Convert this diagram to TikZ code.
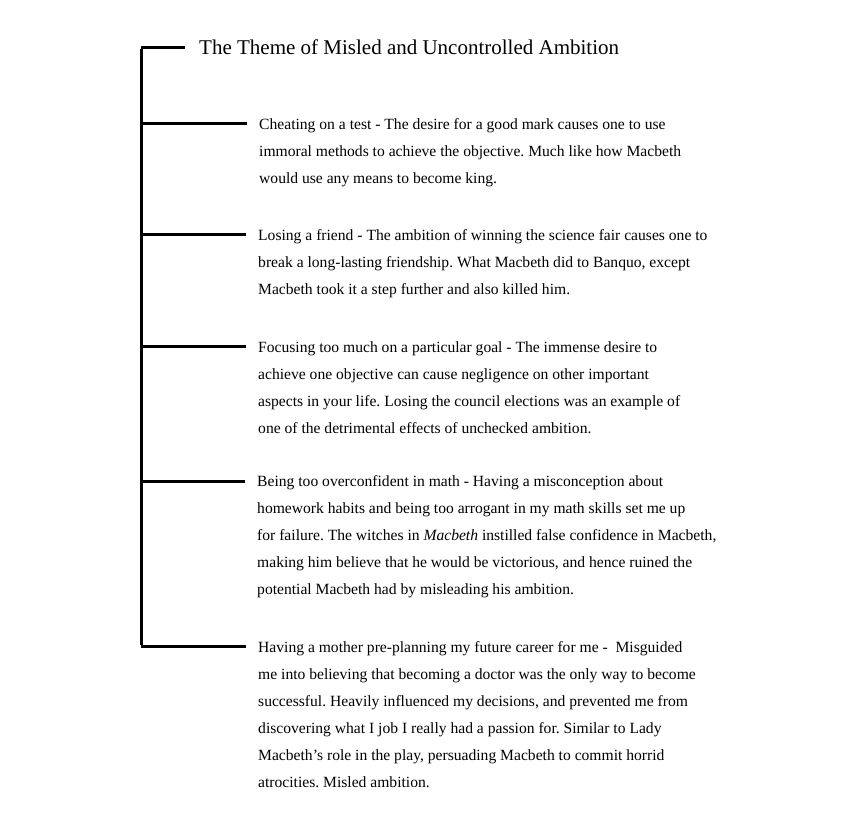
\documentclass[tikz,border=0pt]{standalone}
\usepackage{fontspec}
\setmainfont{Liberation Serif}
\usetikzlibrary{positioning, calc}
\frenchspacing

\begin{document}
\begin{tikzpicture}[x=1pt, y=-1pt,
        trunk/.style={line width=3pt},
        branch/.style={line width=3pt},
        item/.style={anchor=north west, align=left, inner sep=0pt, font=\fontsize{15.6}{27}\selectfont},
        title/.style={anchor=base west, inner sep=0pt, font=\fontsize{21}{24}\selectfont}
    ]
        \useasboundingbox (0,0) rectangle (856,826);

        % === Title ===
        \coordinate (t0) at (141, 48);
        \node[title] (head) at (199, 55) {The Theme of Misled and Uncontrolled Ambition};

        % === Items ===
        \coordinate (t1) at (141, 124);
        \node[item] (i1) at (259, 118)
            {Cheating on a test - The desire for a good mark causes one to use\\
             immoral methods to achieve the objective. Much like how Macbeth\\
             would use any means to become king.};

        \coordinate (t2) at (141, 235);
        \node[item] (i2) at (258, 229)
            {Losing a friend - The ambition of winning the science fair causes one to\\
             break a long-lasting friendship. What Macbeth did to Banquo, except\\
             Macbeth took it a step further and also killed him.};

        \coordinate (t3) at (141, 346);
        \node[item] (i3) at (258, 341)
            {Focusing too much on a particular goal - The immense desire to\\
             achieve one objective can cause negligence on other important\\
             aspects in your life. Losing the council elections was an example of\\
             one of the detrimental effects of unchecked ambition.};

        \coordinate (t4) at (141, 481);
        \node[item] (i4) at (257, 475)
            {Being too overconfident in math - Having a misconception about\\
             homework habits and being too arrogant in my math skills set me up\\
             for failure. The witches in \textit{Macbeth} instilled false confidence in Macbeth,\\
             making him believe that he would be victorious, and hence ruined the\\
             potential Macbeth had by misleading his ambition.};

        \coordinate (t5) at (141, 646);
        \node[item] (i5) at (258, 641)
            {Having a mother pre-planning my future career for me -\ \ Misguided\\
             me into believing that becoming a doctor was the only way to become\\
             successful. Heavily influenced my decisions, and prevented me from\\
             discovering what I job I really had a passion for. Similar to Lady\\
             Macbeth's role in the play, persuading Macbeth to commit horrid\\
             atrocities. Misled ambition.};

        % Tree lines
        \draw[trunk] ([yshift=-1.5pt]t0) -- ([yshift=1.5pt]t5);
        \draw[branch, shorten >=14pt] (t0) -- (t0 -| head.west);
        \foreach \k in {1,...,5}
            \draw[branch, shorten >=12pt] (t\k) -- (t\k -| i\k.west);

\end{tikzpicture}
\end{document}
